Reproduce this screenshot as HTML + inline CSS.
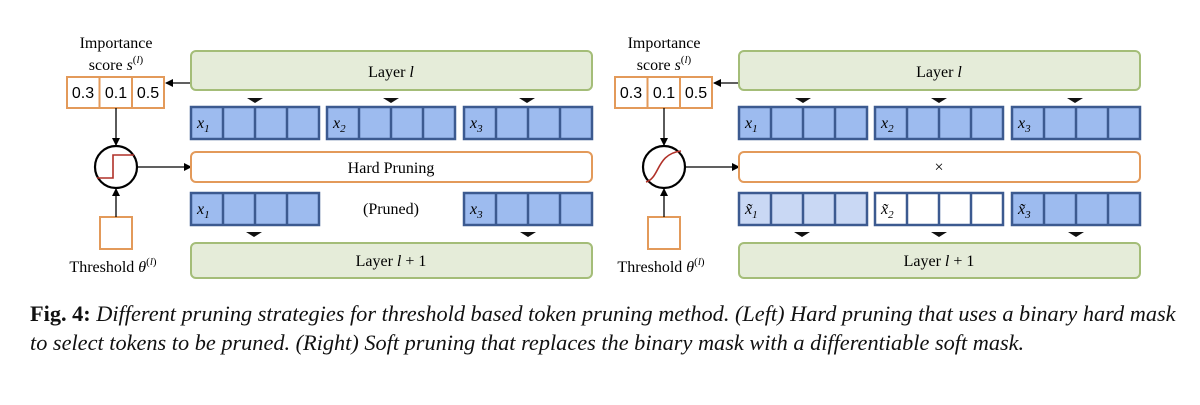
<!DOCTYPE html>
<html><head><meta charset="utf-8"><style>
body{margin:0;background:#fff;width:1200px;height:405px;overflow:hidden;position:relative}
.cap{position:absolute;left:30px;top:300px;width:1165px;font-family:"Liberation Serif",serif;font-size:22.3px;line-height:28.5px;font-style:italic;color:#111}
.cap b{font-style:normal}
</style></head><body>
<svg width="1200" height="290" style="position:absolute;left:0;top:0" font-family="Liberation Serif, serif">
<defs>
<marker id="ar" markerWidth="8" markerHeight="8" refX="7" refY="4" orient="auto" markerUnits="userSpaceOnUse"><path d="M0,0 L8,4 L0,8 z" fill="#000"/></marker>
<g id="tok"><rect x="0" y="0" width="128" height="32" fill="#9dbbef" stroke="#3c5a90" stroke-width="2.5"/><line x1="32" y1="0" x2="32" y2="32" stroke="#3c5a90" stroke-width="2.5"/><line x1="64" y1="0" x2="64" y2="32" stroke="#3c5a90" stroke-width="2.5"/><line x1="96" y1="0" x2="96" y2="32" stroke="#3c5a90" stroke-width="2.5"/></g>
<g id="tri"><path d="M-8,0 L8,0 L0,5 z" fill="#111"/></g>
<g id="common">
<text x="116" y="48" font-size="16" text-anchor="middle">Importance</text>
<text x="116" y="70" font-size="16" text-anchor="middle">score <tspan font-style="italic">s</tspan><tspan font-size="11" dy="-7">(<tspan font-style="italic">l</tspan>)</tspan></text>
<rect x="67" y="77" width="97" height="31" fill="#fff" stroke="#e39a5a" stroke-width="2"/>
<line x1="99.5" y1="77" x2="99.5" y2="108" stroke="#e39a5a" stroke-width="2"/>
<line x1="132" y1="77" x2="132" y2="108" stroke="#e39a5a" stroke-width="2"/>
<g font-family="Liberation Sans, sans-serif" font-size="16" text-anchor="middle"><text x="83" y="98">0.3</text><text x="116" y="98">0.1</text><text x="148" y="98">0.5</text><text x="116" y="239">0.2</text></g>
<rect x="100" y="217" width="32" height="32" fill="#fff" stroke="#e39a5a" stroke-width="2"/>
<line x1="116" y1="108" x2="116" y2="145" stroke="#000" stroke-width="1.3" marker-end="url(#ar)"/>
<line x1="116" y1="217" x2="116" y2="189" stroke="#000" stroke-width="1.3" marker-end="url(#ar)"/>
<line x1="191" y1="83" x2="166" y2="83" stroke="#000" stroke-width="1.3" marker-end="url(#ar)"/>
<line x1="138" y1="167" x2="191" y2="167" stroke="#000" stroke-width="1.3" marker-end="url(#ar)"/>
<circle cx="116" cy="167" r="21" fill="#fff" stroke="#000" stroke-width="2.2"/>
<text x="113" y="272" font-size="16" text-anchor="middle">Threshold <tspan font-style="italic">θ</tspan><tspan font-size="11" dy="-7">(<tspan font-style="italic">l</tspan>)</tspan></text>
<rect x="191" y="51" width="401" height="39" rx="5" fill="#e5ecd9" stroke="#a4bd78" stroke-width="2"/>
<text x="391" y="77" font-size="16" text-anchor="middle">Layer <tspan font-style="italic">l</tspan></text>
<rect x="191" y="243" width="401" height="35" rx="5" fill="#e5ecd9" stroke="#a4bd78" stroke-width="2"/>
<text x="391" y="266" font-size="16" text-anchor="middle">Layer <tspan font-style="italic">l</tspan> + 1</text>
<rect x="191" y="152" width="401" height="30" rx="5" fill="#fff" stroke="#e39a5a" stroke-width="2"/>
<use href="#tok" x="191" y="107"/><use href="#tok" x="327" y="107"/><use href="#tok" x="464" y="107"/>
<use href="#tri" x="255" y="98"/><use href="#tri" x="391" y="98"/><use href="#tri" x="527" y="98"/>
<g font-size="16" font-style="italic"><text x="197" y="128">x<tspan font-size="11" dy="4">1</tspan></text><text x="333" y="128">x<tspan font-size="11" dy="4">2</tspan></text><text x="470" y="128">x<tspan font-size="11" dy="4">3</tspan></text></g>
</g>
</defs>
<use href="#common"/>
<path d="M97,178 L113,178 L113,155 L134,155" fill="none" stroke="#b03028" stroke-width="1.6"/>
<text x="391" y="173" font-size="16" text-anchor="middle">Hard Pruning</text>
<use href="#tok" x="191" y="193"/><use href="#tok" x="464" y="193"/>
<g font-size="16" font-style="italic"><text x="197" y="214">x<tspan font-size="11" dy="4">1</tspan></text><text x="470" y="214">x<tspan font-size="11" dy="4">3</tspan></text></g>
<text x="391" y="214" font-size="16" text-anchor="middle">(Pruned)</text>
<use href="#tri" x="254" y="232"/><use href="#tri" x="528" y="232"/>
<g transform="translate(548,0)">
<use href="#common"/>
<path d="M98,182 C112,178 108,154 133,151" fill="none" stroke="#b03028" stroke-width="1.6"/>
<text x="391" y="172" font-size="16" text-anchor="middle">×</text>
<rect x="191" y="193" width="128" height="32" fill="#c9d8f4" stroke="#3c5a90" stroke-width="2.5"/>
<rect x="327" y="193" width="128" height="32" fill="#fff" stroke="#3c5a90" stroke-width="2.5"/>
<rect x="464" y="193" width="128" height="32" fill="#9dbbef" stroke="#3c5a90" stroke-width="2.5"/>
<g stroke="#3c5a90" stroke-width="2.5"><line x1="223" y1="193" x2="223" y2="225"/><line x1="255" y1="193" x2="255" y2="225"/><line x1="287" y1="193" x2="287" y2="225"/><line x1="359" y1="193" x2="359" y2="225"/><line x1="391" y1="193" x2="391" y2="225"/><line x1="423" y1="193" x2="423" y2="225"/><line x1="496" y1="193" x2="496" y2="225"/><line x1="528" y1="193" x2="528" y2="225"/><line x1="560" y1="193" x2="560" y2="225"/></g>
<g font-size="16" font-style="italic"><text x="197" y="214">x̃<tspan font-size="11" dy="4">1</tspan></text><text x="333" y="214">x̃<tspan font-size="11" dy="4">2</tspan></text><text x="470" y="214">x̃<tspan font-size="11" dy="4">3</tspan></text></g>
<use href="#tri" x="254" y="232"/><use href="#tri" x="391" y="232"/><use href="#tri" x="528" y="232"/>
</g>
</svg>
<div class="cap"><b>Fig. 4:</b> Different pruning strategies for threshold based token pruning method. (Left) Hard pruning that uses a binary hard mask to select tokens to be pruned. (Right) Soft pruning that replaces the binary mask with a differentiable soft mask.</div>
</body></html>
